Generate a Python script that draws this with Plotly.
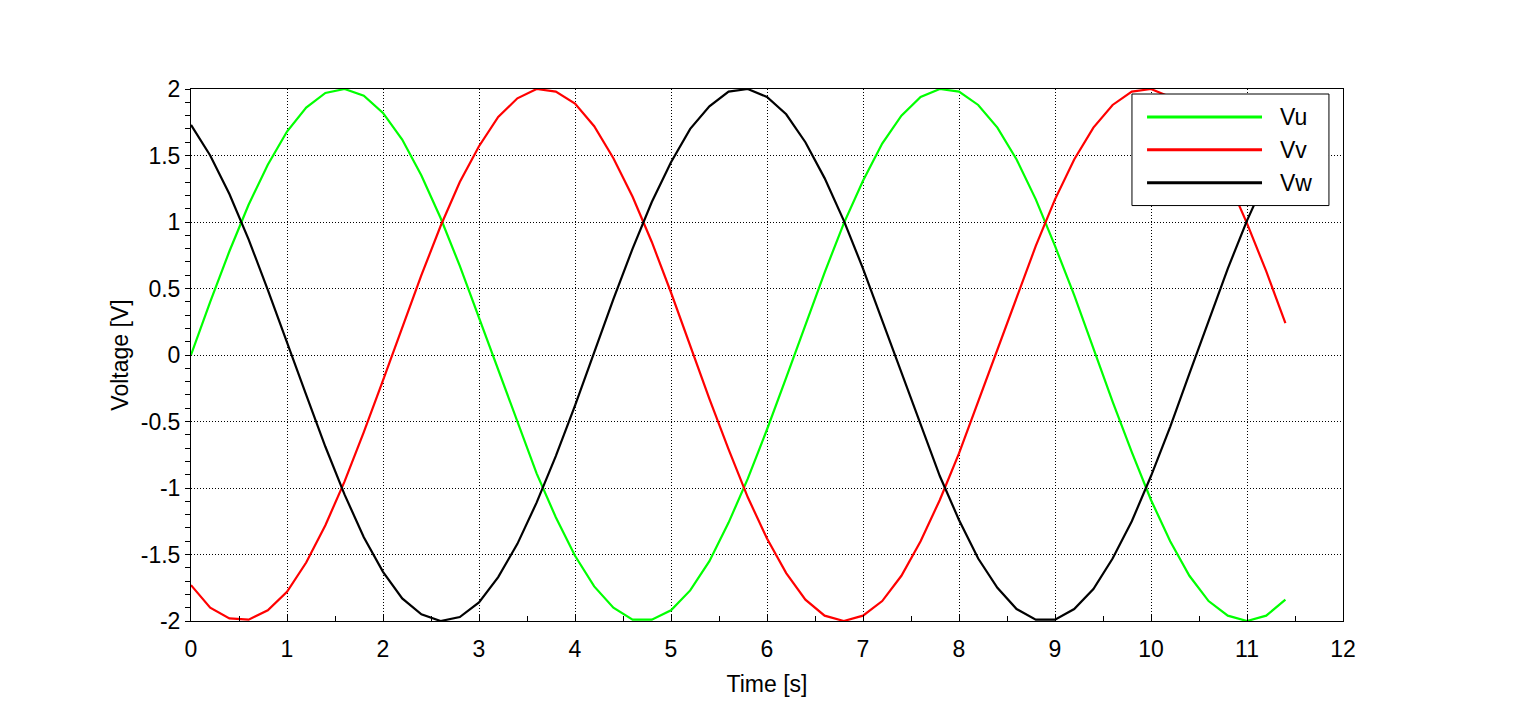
import plotly.graph_objects as go

time_s = [0.0, 0.2, 0.4, 0.6, 0.8, 1.0, 1.2, 1.4, 1.6, 1.8, 2.0, 2.2, 2.4, 2.6, 2.8,
          3.0, 3.2, 3.4, 3.6, 3.8, 4.0, 4.2, 4.4, 4.6, 4.8, 5.0, 5.2, 5.4, 5.6, 5.8,
          6.0, 6.2, 6.4, 6.6, 6.8, 7.0, 7.2, 7.4, 7.6, 7.8, 8.0, 8.2, 8.4, 8.6, 8.8,
          9.0, 9.2, 9.4, 9.6, 9.8, 10.0, 10.2, 10.4, 10.6, 10.8, 11.0, 11.2, 11.4]

vu = [0.00, 0.40, 0.78, 1.13, 1.43, 1.68, 1.86, 1.97, 2.00, 1.95, 1.82, 1.62, 1.35, 1.03, 0.67,
      0.28, -0.12, -0.51, -0.89, -1.22, -1.51, -1.74, -1.90, -1.99, -1.99, -1.92, -1.77, -1.55, -1.26, -0.93,
      -0.56, -0.17, 0.23, 0.62, 0.99, 1.31, 1.59, 1.80, 1.94, 2.00, 1.98, 1.88, 1.71, 1.47, 1.17,
      0.82, 0.45, 0.05, -0.35, -0.73, -1.09, -1.40, -1.66, -1.85, -1.96, -2.00, -1.96, -1.84]

vv = [-1.73, -1.90, -1.98, -1.99, -1.92, -1.78, -1.56, -1.28, -0.95, -0.58, -0.19, 0.21, 0.60, 0.97, 1.30,
      1.57, 1.79, 1.93, 2.00, 1.98, 1.89, 1.72, 1.48, 1.19, 0.85, 0.47, 0.07, -0.33, -0.71, -1.07,
      -1.38, -1.64, -1.84, -1.96, -2.00, -1.96, -1.85, -1.66, -1.40, -1.09, -0.74, -0.35, 0.05, 0.44, 0.82,
      1.17, 1.47, 1.71, 1.88, 1.98, 2.00, 1.94, 1.80, 1.59, 1.32, 0.99, 0.63, 0.24]

vw = [1.73, 1.50, 1.21, 0.87, 0.49, 0.09, -0.30, -0.69, -1.05, -1.37, -1.63, -1.83, -1.95, -2.00, -1.97,
      -1.86, -1.67, -1.42, -1.11, -0.76, -0.38, 0.02, 0.42, 0.80, 1.15, 1.45, 1.70, 1.87, 1.98, 2.00,
      1.94, 1.81, 1.60, 1.33, 1.01, 0.65, 0.26, -0.14, -0.53, -0.91, -1.24, -1.53, -1.75, -1.91, -1.99,
      -1.99, -1.91, -1.76, -1.53, -1.25, -0.91, -0.54, -0.14, 0.25, 0.65, 1.01, 1.33, 1.60]

series_names = ["Vu", "Vv", "Vw"]
series_values = [vu, vv, vw]
series_colors = ["#00ff00", "#ff0000", "#000000"]

x_ticks = list(range(0, 13))
y_ticks = [2, 1.5, 1, 0.5, 0, -0.5, -1, -1.5, -2]
y_tick_text = ["2", "1.5", "1", "0.5", "0", "-0.5", "-1", "-1.5", "-2"]

FONT = "Liberation Sans, Arial, sans-serif"
FS = 23

fig = go.Figure()
for name, vals, col in zip(series_names, series_values, series_colors):
    fig.add_trace(go.Scatter(x=time_s, y=vals, mode="lines", name=name,
                             line=dict(color=col, width=2.2), showlegend=False))

fig.update_layout(
    width=1520, height=697,
    paper_bgcolor="white", plot_bgcolor="white",
    margin=dict(l=183, r=185, t=81, b=82),
    font=dict(family=FONT, size=FS, color="black"),
)
fig.update_xaxes(
    range=[0, 12], tickvals=x_ticks, ticktext=[str(v) for v in x_ticks],
    showline=True, linecolor="black", linewidth=1, mirror=True,
    ticks="inside", ticklen=6, tickcolor="black", tickwidth=1,
    ticklabelstandoff=7,
    showgrid=True, gridcolor="black", gridwidth=1, griddash="1px,2px",
    minor=dict(dtick=0.5, ticks="inside", ticklen=5, tickcolor="black", showgrid=False),
    zeroline=False,
    title=dict(text="Time [s]", standoff=15, font=dict(size=FS)),
    tickfont=dict(size=FS),
)
fig.update_yaxes(
    range=[-2, 2], tickvals=y_ticks, ticktext=y_tick_text,
    showline=True, linecolor="black", linewidth=1, mirror=True,
    ticks="outside", ticklen=5, tickcolor="black", tickwidth=1,
    showgrid=True, gridcolor="black", gridwidth=1, griddash="1px,2px",
    minor=dict(dtick=0.1, ticks="outside", ticklen=5, tickcolor="black", showgrid=False),
    zeroline=False,
    title=dict(text="Voltage [V]", standoff=5, font=dict(size=FS)),
    tickfont=dict(size=FS),
)

# Legend box (drawn manually to match the reference style)
lx0, lx1, ly0, ly1 = 0.8168, 0.9878, 0.7809, 0.9906
fig.add_shape(type="rect", xref="paper", yref="paper", x0=lx0, x1=lx1, y0=ly0, y1=ly1,
              line=dict(color="black", width=1), fillcolor="white", layer="above")
row_y = [0.9476, 0.8858, 0.8240]
for name, col, ry in zip(series_names, series_colors, row_y):
    fig.add_shape(type="line", xref="paper", yref="paper", x0=0.8299, x1=0.9297, y0=ry, y1=ry,
                  line=dict(color=col, width=3), layer="above")
    fig.add_annotation(xref="paper", yref="paper", x=0.9436, y=ry, text=name, showarrow=False,
                       xanchor="left", yanchor="middle", font=dict(size=FS, color="black"))

fig.write_html("out.html")
